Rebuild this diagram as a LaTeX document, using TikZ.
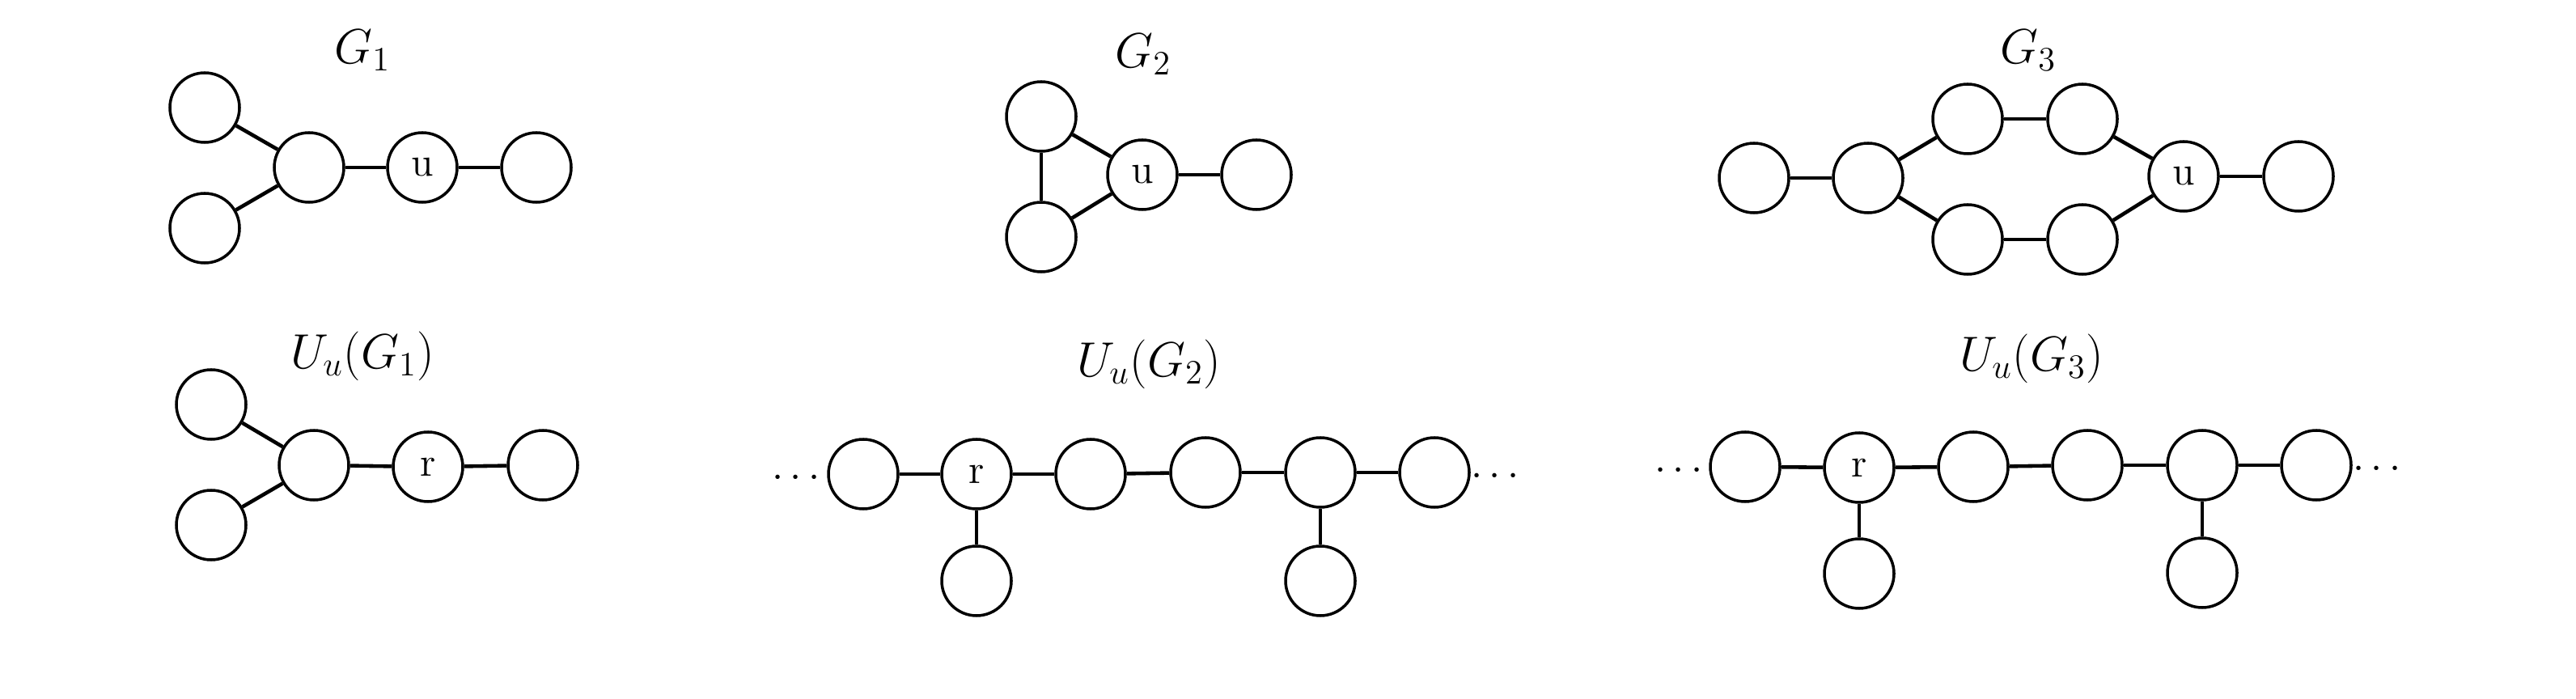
\documentclass[tikz,border=0pt]{standalone}
\usepackage{amsmath,amssymb}
\usepackage{tikz}
\usetikzlibrary{positioning}

\begin{document}
\begin{tikzpicture}[
  vtx/.style={draw, circle, line width=1pt, minimum size=8.6mm, inner sep=0pt, font=\Large},
  lbl/.style={font=\fontsize{16.5}{20}\selectfont},
  dts/.style={inner sep=0pt, font=\Large, yshift=-0.5mm},
  ln/.style={line width=1.3pt}
]
\useasboundingbox (0,0) rectangle (31.84,-8.64);
% top row: G_1, G_2, G_3
\node[lbl] (g1) at (4.48,-0.62) {$G_1$};
\node[vtx] (a1) at (2.53,-1.33) {};
\node[vtx] (b1) at (2.53,-2.82) {};
\node[vtx] (c1) at (3.82,-2.07) {};
\node[vtx] (u1) at (5.22,-2.07) {u};
\node[vtx] (d1) at (6.63,-2.07) {};
\draw[ln] (a1) -- (c1);
\draw[ln] (b1) -- (c1);
\draw[ln] (c1) -- (u1);
\draw[ln] (u1) -- (d1);

\node[lbl] (g2) at (14.13,-0.67) {$G_2$};
\node[vtx] (a2) at (12.87,-1.44) {};
\node[vtx] (b2) at (12.87,-2.93) {};
\node[vtx] (u2) at (14.12,-2.16) {u};
\node[vtx] (d2) at (15.53,-2.16) {};
\draw[ln] (a2) -- (b2);
\draw[ln] (a2) -- (u2);
\draw[ln] (b2) -- (u2);
\draw[ln] (u2) -- (d2);

\node[lbl] (g3) at (25.07,-0.62) {$G_3$};
\node[vtx] (l3) at (21.68,-2.20) {};
\node[vtx] (m3) at (23.09,-2.20) {};
\node[vtx] (p3) at (24.32,-1.47) {};
\node[vtx] (q3) at (24.32,-2.96) {};
\node[vtx] (s3) at (25.74,-1.47) {};
\node[vtx] (t3) at (25.74,-2.96) {};
\node[vtx] (u3) at (26.99,-2.18) {u};
\node[vtx] (r3) at (28.41,-2.18) {};
\draw[ln] (l3) -- (m3);
\draw[ln] (m3) -- (p3);
\draw[ln] (m3) -- (q3);
\draw[ln] (p3) -- (s3);
\draw[ln] (q3) -- (t3);
\draw[ln] (s3) -- (u3);
\draw[ln] (t3) -- (u3);
\draw[ln] (u3) -- (r3);

% bottom row: U_u(G_1), U_u(G_2), U_u(G_3)
\node[lbl] (h1) at (4.48,-4.40) {$U_u(G_1)$};
\node[vtx] (x1) at (2.61,-5.00) {};
\node[vtx] (y1) at (2.61,-6.49) {};
\node[vtx] (z1) at (3.88,-5.75) {};
\node[vtx] (r1) at (5.29,-5.77) {r};
\node[vtx] (w1) at (6.71,-5.75) {};
\draw[ln] (x1) -- (z1);
\draw[ln] (y1) -- (z1);
\draw[ln] (z1) -- (r1);
\draw[ln] (r1) -- (w1);

\node[lbl] (h2) at (14.20,-4.50) {$U_u(G_2)$};
\node[dts] (ll2) at (9.88,-5.86) {$\cdots$};
\node[vtx] (k1) at (10.67,-5.86) {};
\node[vtx] (rr2) at (12.07,-5.86) {r};
\node[vtx] (k3) at (13.48,-5.86) {};
\node[vtx] (k4) at (14.90,-5.84) {};
\node[vtx] (k5) at (16.32,-5.84) {};
\node[vtx] (k6) at (17.73,-5.84) {};
\node[dts] (rl2) at (18.52,-5.84) {$\cdots$};
\node[vtx] (rb2) at (12.07,-7.18) {};
\node[vtx] (kb5) at (16.32,-7.18) {};
\draw[ln] (k1) -- (rr2);
\draw[ln] (rr2) -- (k3);
\draw[ln] (k3) -- (k4);
\draw[ln] (k4) -- (k5);
\draw[ln] (k5) -- (k6);
\draw[ln] (rr2) -- (rb2);
\draw[ln] (k5) -- (kb5);

\node[lbl] (h3) at (25.11,-4.43) {$U_u(G_3)$};
\node[dts] (ll3) at (20.79,-5.77) {$\cdots$};
\node[vtx] (j1) at (21.57,-5.77) {};
\node[vtx] (rr3) at (22.98,-5.78) {r};
\node[vtx] (j3) at (24.39,-5.77) {};
\node[vtx] (j4) at (25.80,-5.75) {};
\node[vtx] (j5) at (27.22,-5.75) {};
\node[vtx] (j6) at (28.63,-5.75) {};
\node[dts] (rl3) at (29.42,-5.75) {$\cdots$};
\node[vtx] (rb3) at (22.98,-7.09) {};
\node[vtx] (jb5) at (27.22,-7.08) {};
\draw[ln] (j1) -- (rr3);
\draw[ln] (rr3) -- (j3);
\draw[ln] (j3) -- (j4);
\draw[ln] (j4) -- (j5);
\draw[ln] (j5) -- (j6);
\draw[ln] (rr3) -- (rb3);
\draw[ln] (j5) -- (jb5);
\end{tikzpicture}
\end{document}
